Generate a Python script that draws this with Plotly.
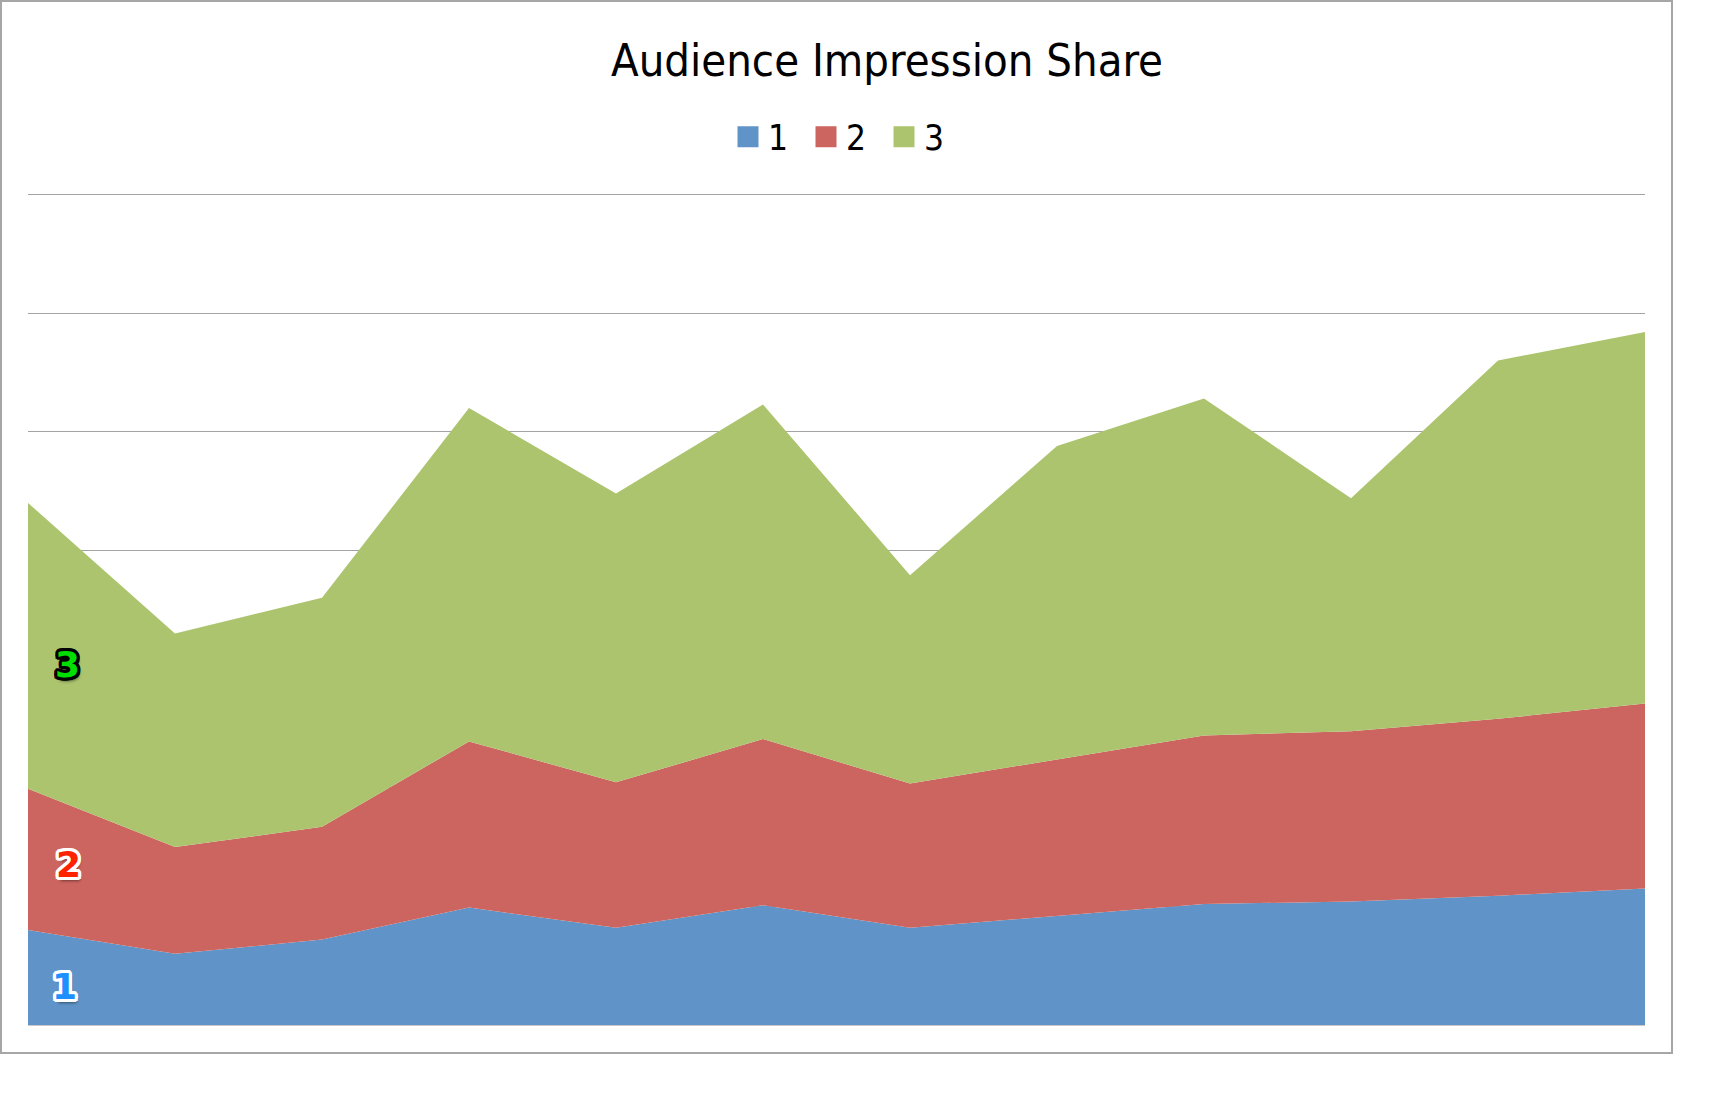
import plotly.graph_objects as go

# ---- data ----
periods = list(range(1, 13))
series_names = ["1", "2", "3"]
series1 = [8.0, 6.0, 7.2, 9.9, 8.2, 10.1, 8.2, 9.2, 10.2, 10.4, 10.9, 11.5]
series2 = [11.9, 9.0, 9.5, 14.0, 12.25, 14.0, 12.15, 13.2, 14.2, 14.35, 14.9, 15.6]
series3 = [24.1, 18.0, 19.3, 28.1, 24.35, 28.2, 17.55, 26.4, 28.4, 19.65, 30.2, 31.3]
title_text = "Audience Impression Share"

colors = ["#6094C8", "#CC6560", "#ACC46E"]
label_colors = ["#1E8FFF", "#FF2200", "#00DD00"]
label_outline = ["#FFFFFF", "#FFFFFF", "#000000"]
label_y = [3.25, 13.5, 30.4]
label_px = [64, 68, 67]

W, H = 1714, 1096
L, R, T, B = 28, 69, 192, 71
pw, ph = W - L - R, H - T - B
FONT = "Liberation Sans Narrow, DejaVu Sans Condensed, sans-serif"

fig = go.Figure()
for name, vals, col in zip(series_names, [series1, series2, series3], colors):
    fig.add_trace(go.Scatter(
        x=periods, y=vals, name=name, mode="lines", stackgroup="one",
        line=dict(width=0, color=col), fillcolor=col, showlegend=False,
        hoverinfo="skip"))
# legend entries (square swatches)
for name, col in zip(series_names, colors):
    fig.add_trace(go.Scatter(
        x=[None], y=[None], name=name, mode="markers",
        marker=dict(symbol="square", size=16, color=col,
                    line=dict(width=6, color=col)),
        showlegend=True))

def outline(c, w=3):
    parts = []
    d = w * 0.72
    for dx, dy in [(w, 0), (-w, 0), (0, w), (0, -w), (d, d), (-d, -d), (d, -d), (-d, d),
                   (w * 0.5, w), (-w * 0.5, w), (w * 0.5, -w), (-w * 0.5, -w),
                   (w, w * 0.5), (-w, w * 0.5), (w, -w * 0.5), (-w, -w * 0.5)]:
        parts.append(f"{dx:.2f}px {dy:.2f}px 0 {c}")
    parts.append("2px 4px 3px rgba(0,0,0,0.45)")
    return ", ".join(parts)

annotations = []
for name, ly, lx, fc, oc in zip(series_names, label_y, label_px, label_colors, label_outline):
    annotations.append(dict(
        x=(lx - L) / pw, xref="paper", y=ly, yref="y", text=name,
        showarrow=False, xanchor="center", yanchor="middle",
        font=dict(family="DejaVu Sans", size=36, color=fc, weight=700,
                  shadow=outline(oc))))

# outer chart border
bx0, bx1, by0, by1 = 1, 1672, 1, 1053
shapes = [dict(type="rect", xref="paper", yref="paper",
               x0=(bx0 - L) / pw, x1=(bx1 - L) / pw,
               y0=(H - B - by1) / ph, y1=(H - B - by0) / ph,
               line=dict(color="#A6A6A6", width=2), fillcolor="rgba(0,0,0,0)",
               layer="below")]

fig.update_layout(
    width=W, height=H,
    margin=dict(l=L, r=R, t=T, b=B),
    paper_bgcolor="white", plot_bgcolor="white",
    title=dict(text=title_text, x=887 / W, xanchor="center", xref="container",
               y=1 - 60 / H, yanchor="middle", yref="container",
               font=dict(family=FONT, size=45, color="black")),
    legend=dict(orientation="h", x=(845 - L) / pw, xanchor="center",
                y=(H - B - 137) / ph, yanchor="middle", traceorder="normal",
                entrywidth=33, entrywidthmode="pixels",
                font=dict(family=FONT, size=35, color="black"),
                bgcolor="rgba(0,0,0,0)", itemclick=False, itemdoubleclick=False),
    xaxis=dict(range=[periods[0], periods[-1]], showgrid=False, zeroline=False,
               showticklabels=False, ticks="", showline=True,
               linecolor="#C8C8C8", linewidth=1, fixedrange=True),
    yaxis=dict(range=[0, 70.2], dtick=10, tick0=0, showgrid=True, gridcolor="#A3A3A3",
               gridwidth=1.4, zeroline=False, showticklabels=False, ticks="",
               showline=False, fixedrange=True),
    annotations=annotations,
    shapes=shapes,
    showlegend=True,
)

fig.write_html("out.html", config={"displayModeBar": False})
